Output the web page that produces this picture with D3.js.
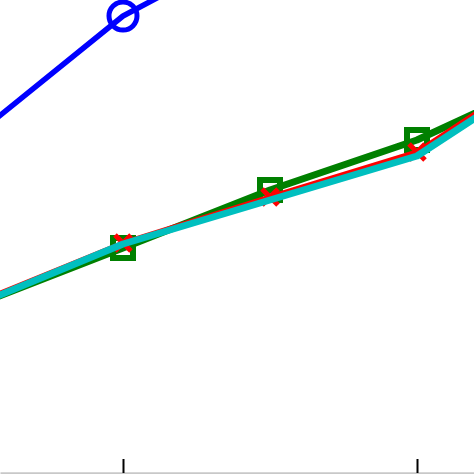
<!DOCTYPE html>
<html>
<head>
<meta charset="utf-8">
<script src="https://cdn.jsdelivr.net/npm/d3@7"></script>
<style>
  html, body { margin: 0; padding: 0; background: #fff; overflow: hidden; }
  svg { display: block; }
</style>
</head>
<body>
<div id="chart"></div>
<script>
// values (the chart is a crop, so the end points sit outside the frame)
const xValues = [1, 2, 3, 4, 5];
const blueValues = [3.37, 4.56, 5.34, 6.0, 6.6];
const greenValues = [1.67, 2.24, 2.82, 3.32, 4.0];
const redValues = [1.69, 2.29, 2.75, 3.2, 4.17];
const cyanValues = [1.67, 2.28, 2.72, 3.16, 4.12];
const xTicks = [0, 2, 4, 6];

const width = 474;
const height = 474;
const axisY = 473;

const xScale = d3.scaleLinear().domain([2, 4]).range([123, 417]);
const yScale = d3.scaleLinear().domain([0, 4.72]).range([472, 0]);

// same mapping, stretched over the whole frame so the baseline runs edge to edge
const axisScale = xScale
  .copy()
  .domain([xScale.invert(0), xScale.invert(width)])
  .range([0, width]);

const svg = d3
  .select('#chart')
  .append('svg')
  .attr('width', width)
  .attr('height', height);

const line = d3
  .line()
  .x((d) => xScale(d[0]))
  .y((d) => yScale(d[1]));

const series = [
  { key: 'blue', values: blueValues, color: '#0000ff', width: 5.5, marker: 'circle' },
  { key: 'green', values: greenValues, color: '#008000', width: 7, marker: 'square' },
  { key: 'red', values: redValues, color: '#ff0000', width: 5, marker: 'cross' },
  { key: 'cyan', values: cyanValues, color: '#00bfbf', width: 7, marker: null },
];

// x axis: grey baseline with inward black ticks
const xAxis = svg
  .append('g')
  .attr('transform', `translate(0,${axisY})`)
  .call(
    d3
      .axisBottom(axisScale)
      .tickValues(xTicks)
      .tickSize(-14)
      .tickSizeOuter(0)
      .tickFormat('')
  );
xAxis.select('.domain').attr('stroke', '#c8c8c8').attr('stroke-width', 2.5);
xAxis.selectAll('.tick line').attr('stroke', '#000').attr('stroke-width', 2);

series.forEach((s) => {
  const pts = xValues.map((x, i) => [x, s.values[i]]);
  const g = svg.append('g').attr('class', `series ${s.key}`);

  g.append('path')
    .attr('d', line(pts))
    .attr('fill', 'none')
    .attr('stroke', s.color)
    .attr('stroke-width', s.width)
    .attr('stroke-linejoin', 'round');

  const marks = g
    .selectAll('.mark')
    .data(pts)
    .join('g')
    .attr('class', 'mark')
    .attr('transform', (d) => `translate(${xScale(d[0])},${yScale(d[1])})`);

  if (s.marker === 'circle') {
    marks
      .append('circle')
      .attr('r', 14)
      .attr('fill', 'none')
      .attr('stroke', s.color)
      .attr('stroke-width', 5);
  } else if (s.marker === 'square') {
    marks
      .append('rect')
      .attr('x', -10)
      .attr('y', -10)
      .attr('width', 20)
      .attr('height', 20)
      .attr('fill', 'none')
      .attr('stroke', s.color)
      .attr('stroke-width', 6);
  } else if (s.marker === 'cross') {
    marks
      .append('path')
      .attr('d', 'M-8,-8L8,8M-8,8L8,-8')
      .attr('stroke', s.color)
      .attr('stroke-width', 5);
  }
});
</script>
</body>
</html>
